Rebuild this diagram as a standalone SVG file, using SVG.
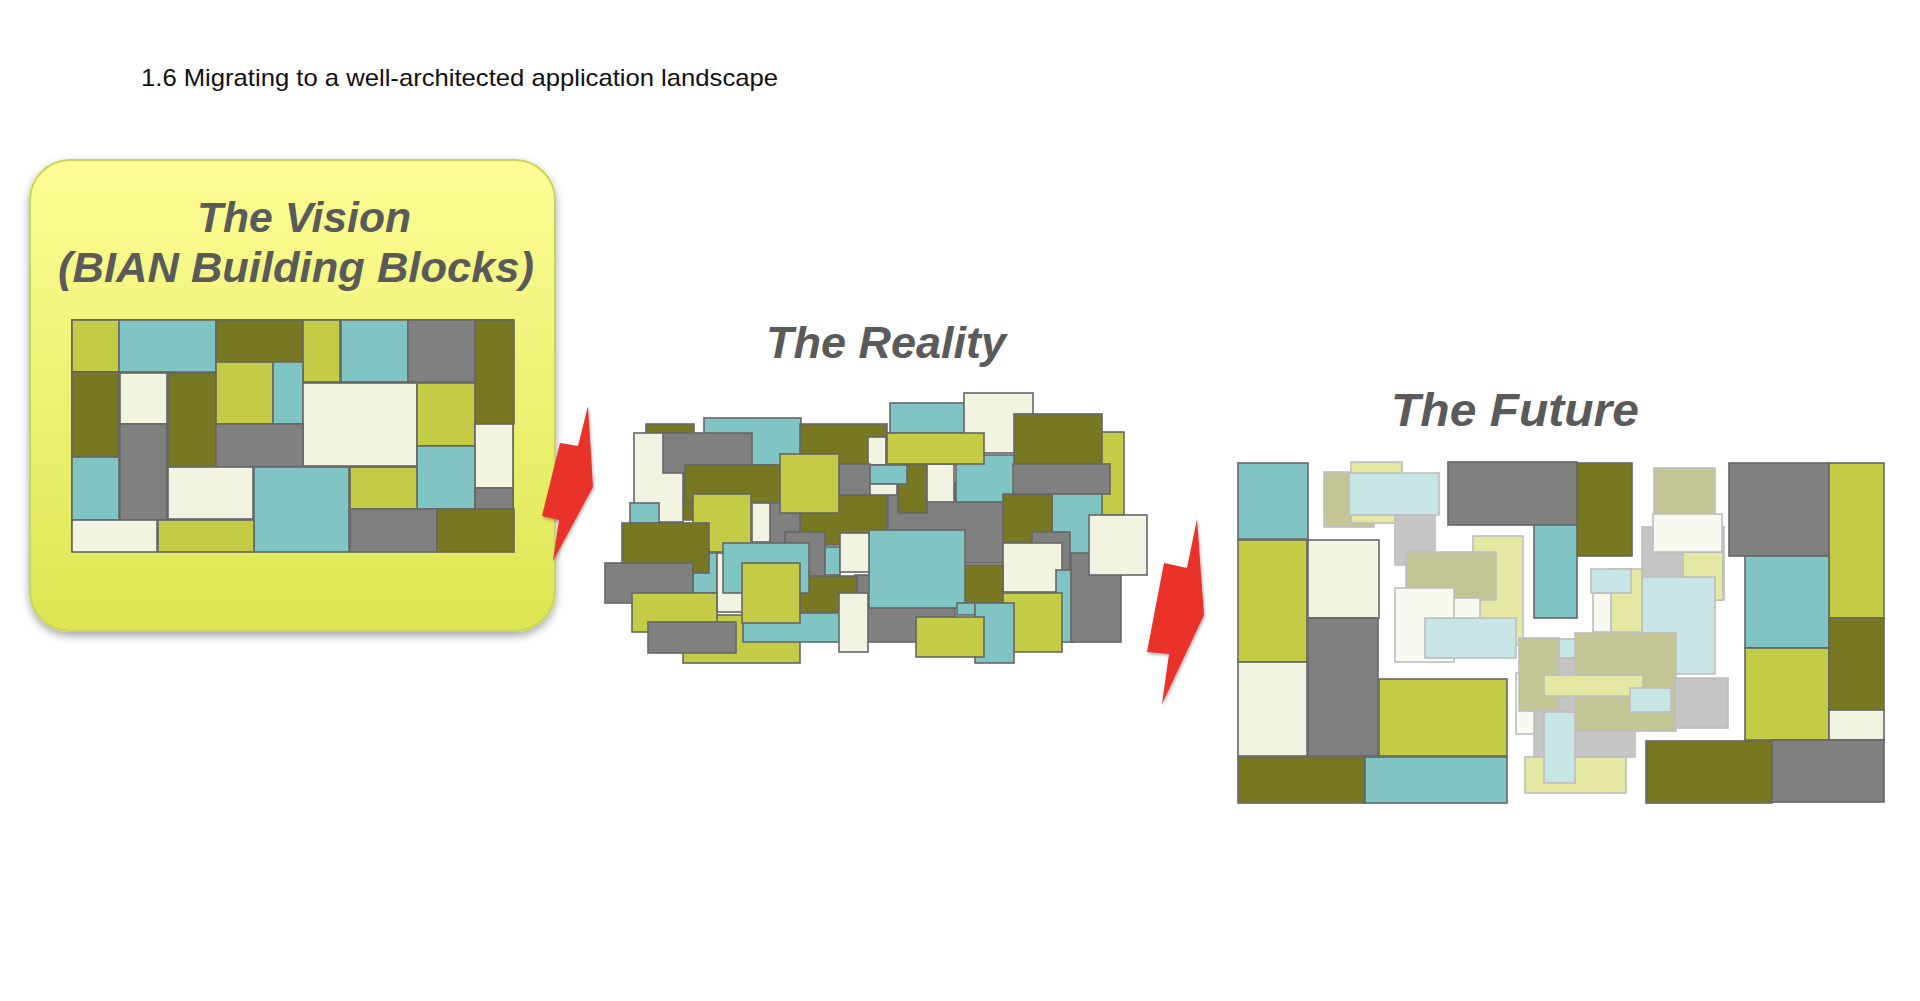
<svg xmlns="http://www.w3.org/2000/svg" width="1920" height="1001" viewBox="0 0 1920 1001">
<style>
.l{fill:#C4CC46}.t{fill:#80C5C3}.o{fill:#787823}.g{fill:#808080}.c{fill:#F2F3E0}
.k{fill:#C4C594}.py{fill:#E4E8A2}.lt{fill:#C6E5E4}.lg{fill:#C5C5C5}.ow{fill:#F8F9F0}
#vision rect.b,#reality rect,#future .dk rect{stroke:#666;stroke-width:1.6}
#future .lt-set rect{stroke:#BDBDBD;stroke-width:1.6}
.hd{font-family:"Liberation Sans",Arial,sans-serif;font-weight:bold;font-style:italic;fill:#5A5A5A;text-anchor:middle}
.arrow{fill:#E8302A}
</style>
<defs>
<linearGradient id="yg" x1="0" y1="0" x2="0" y2="1">
<stop offset="0" stop-color="#FDFD95"/>
<stop offset="1" stop-color="#DCE652"/>
</linearGradient>
<filter id="sh" x="-10%" y="-10%" width="120%" height="125%">
<feDropShadow dx="0" dy="4" stdDeviation="4" flood-color="#000" flood-opacity="0.35"/>
</filter>
<filter id="ash" x="-30%" y="-10%" width="160%" height="130%">
<feDropShadow dx="1" dy="2" stdDeviation="1.5" flood-color="#000" flood-opacity="0.3"/>
</filter>
</defs>
<rect width="1920" height="1001" fill="#FFFFFF"/>

<g id="title">
<text x="141" y="86" font-family="Liberation Sans, Arial, sans-serif" font-size="24" fill="#111" textLength="637" lengthAdjust="spacingAndGlyphs">1.6 Migrating to a well-architected application landscape</text>
</g>

<g id="vision">
<rect x="30" y="160" width="525" height="471" rx="40" fill="url(#yg)" stroke="#C8D55A" stroke-width="2" filter="url(#sh)"/>
<text class="hd" x="304" y="232" font-size="42" textLength="214" lengthAdjust="spacingAndGlyphs">The Vision</text>
<text class="hd" x="296" y="282" font-size="42" textLength="476" lengthAdjust="spacingAndGlyphs">(BIAN Building Blocks)</text>
<rect x="71" y="319" width="443" height="233" fill="#666"/>
<rect class="b l" x="72" y="320" width="47" height="52"/>
<rect class="b t" x="119" y="320" width="97" height="52"/>
<rect class="b o" x="216" y="320" width="87" height="42"/>
<rect class="b l" x="303" y="320" width="37" height="62"/>
<rect class="b t" x="341" y="320" width="67" height="62"/>
<rect class="b g" x="408" y="320" width="67" height="62"/>
<rect class="b o" x="475" y="320" width="39" height="104"/>
<rect class="b o" x="72" y="372" width="47" height="85"/>
<rect class="b c" x="120" y="373" width="47" height="51"/>
<rect class="b o" x="168" y="373" width="48" height="94"/>
<rect class="b l" x="216" y="362" width="57" height="62"/>
<rect class="b t" x="273" y="362" width="30" height="62"/>
<rect class="b c" x="303" y="383" width="114" height="83"/>
<rect class="b l" x="417" y="383" width="58" height="63"/>
<rect class="b c" x="475" y="424" width="38" height="64"/>
<rect class="b g" x="120" y="424" width="47" height="96"/>
<rect class="b g" x="216" y="424" width="87" height="43"/>
<rect class="b t" x="417" y="446" width="58" height="63"/>
<rect class="b g" x="475" y="488" width="38" height="21"/>
<rect class="b t" x="72" y="457" width="47" height="63"/>
<rect class="b c" x="168" y="467" width="85" height="52"/>
<rect class="b t" x="254" y="467" width="95" height="85"/>
<rect class="b l" x="350" y="467" width="67" height="42"/>
<rect class="b g" x="350" y="509" width="87" height="43"/>
<rect class="b o" x="437" y="509" width="77" height="43"/>
<rect class="b c" x="72" y="520" width="85" height="32"/>
<rect class="b l" x="158" y="520" width="96" height="32"/>
</g>

<g id="reality">
<text class="hd" x="886" y="358" font-size="44" textLength="240" lengthAdjust="spacingAndGlyphs" stroke="none">The Reality</text>
<rect class="o" x="646" y="424" width="48" height="96"/>
<rect class="t" x="704" y="418" width="97" height="47"/>
<rect class="o" x="800" y="424" width="87" height="121"/>
<rect class="g" x="770" y="490" width="30" height="55"/>
<rect class="g" x="888" y="483" width="115" height="80"/>
<rect class="t" x="890" y="403" width="78" height="30"/>
<rect class="c" x="964" y="393" width="69" height="60"/>
<rect class="t" x="956" y="455" width="66" height="47"/>
<rect class="o" x="898" y="464" width="29" height="49"/>
<rect class="c" x="927" y="464" width="27" height="38"/>
<rect class="l" x="887" y="433" width="97" height="31"/>
<rect class="c" x="868" y="437" width="18" height="28"/>
<rect class="t" x="868" y="465" width="39" height="19"/>
<rect class="c" x="868" y="484" width="29" height="11"/>
<rect class="g" x="839" y="464" width="31" height="31"/>
<rect class="l" x="1080" y="432" width="44" height="83"/>
<rect class="o" x="1014" y="414" width="88" height="50"/>
<rect class="t" x="1052" y="470" width="50" height="93"/>
<rect class="o" x="1003" y="494" width="49" height="49"/>
<rect class="g" x="1013" y="464" width="97" height="30"/>
<rect class="g" x="1032" y="532" width="38" height="41"/>
<rect class="c" x="1003" y="543" width="59" height="49"/>
<rect class="t" x="1056" y="570" width="18" height="72"/>
<rect class="g" x="1071" y="553" width="50" height="89"/>
<rect class="c" x="1089" y="515" width="58" height="60"/>
<rect class="o" x="965" y="565" width="38" height="38"/>
<rect class="l" x="1003" y="593" width="59" height="59"/>
<rect class="g" x="855" y="575" width="100" height="67"/>
<rect class="t" x="869" y="530" width="96" height="78"/>
<rect class="t" x="957" y="603" width="18" height="12"/>
<rect class="t" x="975" y="603" width="39" height="60"/>
<rect class="l" x="916" y="617" width="68" height="40"/>
<rect class="c" x="634" y="433" width="49" height="89"/>
<rect class="g" x="663" y="433" width="89" height="40"/>
<rect class="o" x="685" y="465" width="107" height="38"/>
<rect class="l" x="780" y="454" width="59" height="59"/>
<rect class="t" x="630" y="503" width="29" height="20"/>
<rect class="c" x="752" y="503" width="18" height="39"/>
<rect class="l" x="693" y="494" width="58" height="58"/>
<rect class="g" x="785" y="532" width="40" height="61"/>
<rect class="t" x="825" y="547" width="15" height="28"/>
<rect class="c" x="840" y="533" width="29" height="39"/>
<rect class="o" x="800" y="576" width="57" height="36"/>
<rect class="t" x="693" y="553" width="24" height="40"/>
<rect class="c" x="717" y="553" width="26" height="59"/>
<rect class="t" x="723" y="543" width="86" height="50"/>
<rect class="o" x="622" y="523" width="87" height="50"/>
<rect class="g" x="605" y="563" width="88" height="40"/>
<rect class="l" x="683" y="615" width="117" height="48"/>
<rect class="t" x="743" y="613" width="97" height="29"/>
<rect class="l" x="742" y="563" width="58" height="60"/>
<rect class="l" x="632" y="593" width="85" height="39"/>
<rect class="g" x="648" y="622" width="88" height="31"/>
<rect class="c" x="839" y="593" width="29" height="59"/>
</g>

<g id="future">
<text class="hd" x="1515" y="426" font-size="46" textLength="248" lengthAdjust="spacingAndGlyphs">The Future</text>
<g class="lt-set">
<rect class="k" x="1324" y="472" width="50" height="55"/>
<rect class="py" x="1351" y="462" width="51" height="61"/>
<rect class="lt" x="1349" y="473" width="90" height="42"/>
<rect class="lg" x="1395" y="515" width="40" height="50"/>
<rect class="py" x="1473" y="536" width="50" height="109"/>
<rect class="k" x="1406" y="552" width="90" height="48"/>
<rect class="ow" x="1440" y="598" width="40" height="24"/>
<rect class="ow" x="1395" y="588" width="59" height="74"/>
<rect class="lt" x="1425" y="618" width="91" height="40"/>
<rect class="k" x="1654" y="468" width="61" height="47"/>
<rect class="lg" x="1642" y="527" width="82" height="73"/>
<rect class="py" x="1683" y="552" width="40" height="48"/>
<rect class="ow" x="1653" y="514" width="69" height="38"/>
<rect class="lt" x="1642" y="577" width="73" height="97"/>
<rect class="py" x="1611" y="569" width="31" height="63"/>
<rect class="ow" x="1593" y="593" width="18" height="39"/>
<rect class="lt" x="1591" y="569" width="40" height="24"/>
<rect class="lg" x="1534" y="658" width="101" height="99"/>
<rect class="ow" x="1516" y="673" width="18" height="61"/>
<rect class="k" x="1519" y="638" width="40" height="73"/>
<rect class="lt" x="1559" y="639" width="16" height="19"/>
<rect class="k" x="1575" y="633" width="101" height="98"/>
<rect class="lg" x="1675" y="678" width="53" height="50"/>
<rect class="py" x="1544" y="675" width="99" height="21"/>
<rect class="lt" x="1630" y="688" width="41" height="24"/>
<rect class="py" x="1525" y="757" width="101" height="36"/>
<rect class="lt" x="1544" y="712" width="31" height="71"/>
</g>
<g class="dk">
<rect class="t" x="1238" y="463" width="70" height="76"/>
<rect class="l" x="1238" y="540" width="69" height="122"/>
<rect class="c" x="1308" y="540" width="71" height="78"/>
<rect class="c" x="1238" y="662" width="69" height="94"/>
<rect class="g" x="1308" y="618" width="70" height="138"/>
<rect class="l" x="1379" y="679" width="128" height="77"/>
<rect class="o" x="1238" y="757" width="127" height="46"/>
<rect class="t" x="1365" y="757" width="142" height="46"/>
<rect class="g" x="1448" y="462" width="129" height="63"/>
<rect class="o" x="1577" y="463" width="55" height="93"/>
<rect class="t" x="1534" y="525" width="43" height="93"/>
<rect class="g" x="1729" y="463" width="100" height="93"/>
<rect class="l" x="1829" y="463" width="55" height="155"/>
<rect class="t" x="1745" y="556" width="84" height="92"/>
<rect class="l" x="1745" y="648" width="84" height="92"/>
<rect class="o" x="1829" y="618" width="55" height="92"/>
<rect class="c" x="1829" y="710" width="55" height="30"/>
<rect class="o" x="1646" y="741" width="126" height="62"/>
<rect class="g" x="1772" y="740" width="112" height="62"/>
</g>
</g>

<g id="connectors">
<polygon class="arrow" filter="url(#ash)" points="588,406 593,487 553,561 559,520 542,516 560,443 578,446"/>
<polygon class="arrow" filter="url(#ash)" points="1197,519 1204,615 1162,704 1169,654 1147,652 1164,563 1187,568"/>
</g>
</svg>
